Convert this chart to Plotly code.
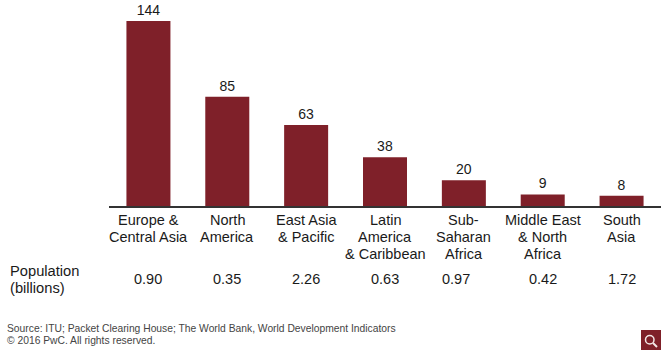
import plotly.graph_objects as go

regions = [["Europe &", "Central Asia"], ["North", "America"], ["East Asia", "& Pacific"], ["Latin", "America", "& Caribbean"],
           ["Sub-", "Saharan", "Africa"], ["Middle East", "& North", "Africa"], ["South", "Asia"]]
values = [144, 85, 63, 38, 20, 9, 8]
population = ["0.90", "0.35", "2.26", "0.63", "0.97", "0.42", "1.72"]
pop_shift = [0, 0, 0, 0, -8, 0, 0]
source_lines = ["Source: ITU; Packet Clearing House; The World Bank, World Development Indicators",
                "© 2016 PwC. All rights reserved."]
pop_title = ["Population", "(billions)"]

W, H = 670, 352
L, R, BASE = 109, 661, 206
FONT = "Liberation Sans"
BAR = "#7F2029"
TXT = "#1a1a1a"
def px(x): return (x - L) / (R - L)
def py(y): return 1 - y / BASE

fig = go.Figure(go.Bar(
    x=list(range(7)), y=values, width=0.558, marker=dict(color=BAR, line=dict(width=0)),
    text=[str(v) for v in values], textposition="outside", cliponaxis=False,
    textfont=dict(family=FONT, size=14, color=TXT), hoverinfo="skip"))

ann = []
for i, lines in enumerate(regions):
    for j, line in enumerate(lines):
        ann.append(dict(x=i, xref="x", y=py(220 + 17 * j), yref="paper", text=line, showarrow=False,
                        xanchor="center", yanchor="middle", font=dict(family=FONT, size=14.5, color=TXT)))
for i, p in enumerate(population):
    ann.append(dict(x=i, xref="x", y=py(279), yref="paper", text=p, showarrow=False, xshift=pop_shift[i],
                    xanchor="center", yanchor="middle", font=dict(family=FONT, size=14.5, color=TXT)))
for j, line in enumerate(pop_title):
    ann.append(dict(x=px(8), xref="paper", y=py(271 + 17 * j), yref="paper", text=line, showarrow=False,
                    xanchor="left", yanchor="middle", font=dict(family=FONT, size=14.7, color=TXT)))
for j, line in enumerate(source_lines):
    ann.append(dict(x=px(5), xref="paper", y=py(328.5 + 12 * j), yref="paper", text=line, showarrow=False,
                    xanchor="left", yanchor="middle", font=dict(family=FONT, size=10.3, color="#444444")))

shapes = [
    dict(type="rect", xref="paper", yref="paper", x0=px(641), x1=px(661), y0=py(350), y1=py(330),
         fillcolor=BAR, line=dict(width=0), layer="above"),
    dict(type="circle", xref="paper", yref="paper", x0=px(645.5), x1=px(654), y0=py(344), y1=py(335.5),
         line=dict(color="#f3e6e6", width=1.5), layer="above"),
    dict(type="line", xref="paper", yref="paper", x0=px(653), x1=px(657), y0=py(343), y1=py(347),
         line=dict(color="#f3e6e6", width=2), layer="above"),
]

fig.update_layout(
    width=W, height=H, margin=dict(l=L, r=W - R, t=0, b=H - BASE, autoexpand=False),
    paper_bgcolor="white", plot_bgcolor="white", showlegend=False, annotations=ann, shapes=shapes,
    xaxis=dict(tickmode="array", tickvals=list(range(7)), showticklabels=False, range=[-0.5, 6.5],
               showgrid=False, zeroline=False, showline=True, linecolor="#333333", linewidth=2, ticks=""),
    yaxis=dict(range=[0, 160.3], visible=False),
)
fig.write_html("out.html", post_script="document.body.style.margin='0';", config={"displayModeBar": False})
